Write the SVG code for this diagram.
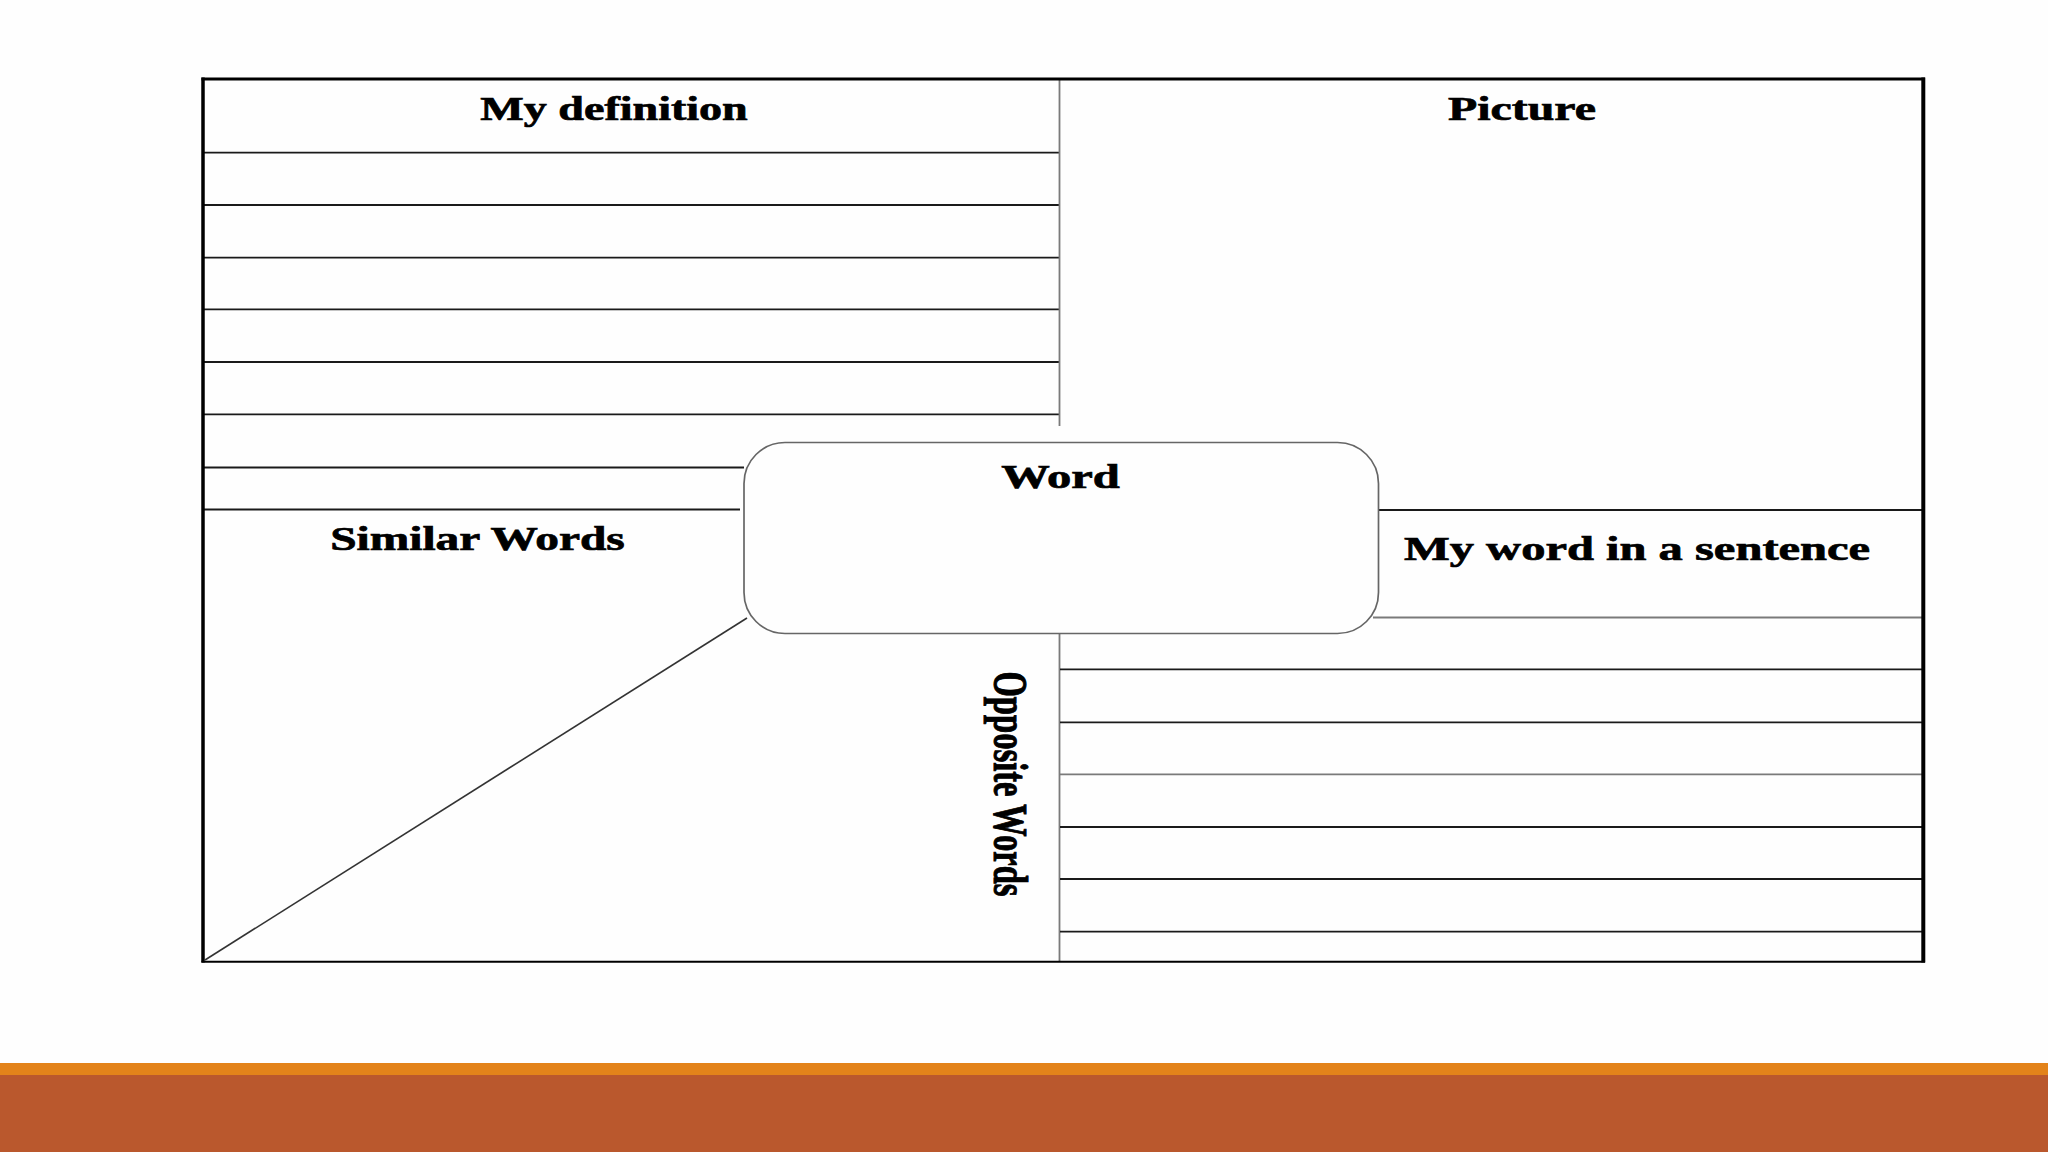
<svg xmlns="http://www.w3.org/2000/svg" width="2048" height="1152" viewBox="0 0 2048 1152">
  <style>
    .rule { stroke: #1a1a1a; stroke-width: 1.8; fill: none; }
    .soft { stroke: #7a7a7a; stroke-width: 1.8; fill: none; }
    .frame { stroke: #000000; fill: none; }
    .lbl { font-family: "Liberation Serif", "Times New Roman", serif; font-weight: bold; font-size: 34px; fill: #000000; stroke: #000000; stroke-width: 0.7; text-anchor: middle; }
  </style>
  <rect x="0" y="0" width="2048" height="1152" fill="#FEFEFE"/>

  <g id="bottom-band">
    <rect x="0" y="1063" width="2048" height="12" fill="#E3831A"/>
    <rect x="0" y="1075" width="2048" height="77" fill="#BA582D"/>
  </g>

  <g id="definition-cell">
    <line class="rule" x1="203" y1="152.7" x2="1060" y2="152.7"/>
    <line class="rule" x1="203" y1="205" x2="1060" y2="205"/>
    <line class="rule" x1="203" y1="257.7" x2="1060" y2="257.7"/>
    <line class="rule" x1="203" y1="309.3" x2="1060" y2="309.3"/>
    <line class="rule" x1="203" y1="362" x2="1060" y2="362"/>
    <line class="rule" x1="203" y1="414.3" x2="1060" y2="414.3"/>
    <line class="rule" x1="203" y1="467.5" x2="744" y2="467.5"/>
    <line class="rule" x1="203" y1="509.5" x2="740" y2="509.5"/>
    <g transform="translate(614,120) scale(1.43,1)">
      <text class="lbl" x="0" y="0" textLength="187" lengthAdjust="spacingAndGlyphs">My definition</text>
    </g>
  </g>

  <g id="picture-cell">
    <line class="soft" x1="1059.5" y1="79" x2="1059.5" y2="426"/>
    <g transform="translate(1522,120) scale(1.43,1)">
      <text class="lbl" x="0" y="0" textLength="103.5" lengthAdjust="spacingAndGlyphs">Picture</text>
    </g>
  </g>

  <g id="similar-cell">
    <g transform="translate(477.5,550) scale(1.43,1)">
      <text class="lbl" x="0" y="0" textLength="206" lengthAdjust="spacingAndGlyphs">Similar Words</text>
    </g>
  </g>

  <g id="sentence-cell">
    <line class="rule" x1="1378" y1="510" x2="1922" y2="510"/>
    <line class="soft" x1="1373" y1="617.5" x2="1922" y2="617.5"/>
    <g transform="translate(1637,560) scale(1.43,1)">
      <text class="lbl" x="0" y="0" textLength="326" lengthAdjust="spacingAndGlyphs">My word in a sentence</text>
    </g>
  </g>

  <g id="opposite-cell">
    <line class="soft" x1="1059.5" y1="633" x2="1059.5" y2="962"/>
    <line class="rule" x1="1060" y1="669.3" x2="1922" y2="669.3"/>
    <line class="rule" x1="1060" y1="722.3" x2="1922" y2="722.3"/>
    <line class="soft" x1="1060" y1="774.3" x2="1922" y2="774.3"/>
    <line class="rule" x1="1060" y1="827" x2="1922" y2="827"/>
    <line class="rule" x1="1060" y1="879" x2="1922" y2="879"/>
    <line class="rule" x1="1060" y1="931.7" x2="1922" y2="931.7"/>
    <g transform="translate(994,784) scale(1.45,1) rotate(90)">
      <text class="lbl" x="0" y="0" textLength="225" lengthAdjust="spacingAndGlyphs">Opposite Words</text>
    </g>
  </g>

  <g id="connectors">
    <line stroke="#333333" stroke-width="1.6" x1="205" y1="960" x2="747" y2="618"/>
  </g>

  <g id="word-box">
    <rect x="744" y="442.5" width="634.5" height="191" rx="41" ry="41" fill="#FEFEFE" stroke="#666666" stroke-width="1.7"/>
    <g transform="translate(1060.5,488) scale(1.43,1)">
      <text class="lbl" x="0" y="0" textLength="83" lengthAdjust="spacingAndGlyphs">Word</text>
    </g>
  </g>

  <g id="outer-frame">
    <line class="frame" stroke-width="3" x1="201.5" y1="79" x2="1925" y2="79"/>
    <line class="frame" stroke-width="3.5" x1="203" y1="77.5" x2="203" y2="962.5"/>
    <line class="frame" stroke-width="4" x1="1923.3" y1="77.5" x2="1923.3" y2="962.5"/>
    <line class="frame" stroke-width="2" x1="201.5" y1="961.7" x2="1925" y2="961.7"/>
  </g>
</svg>
